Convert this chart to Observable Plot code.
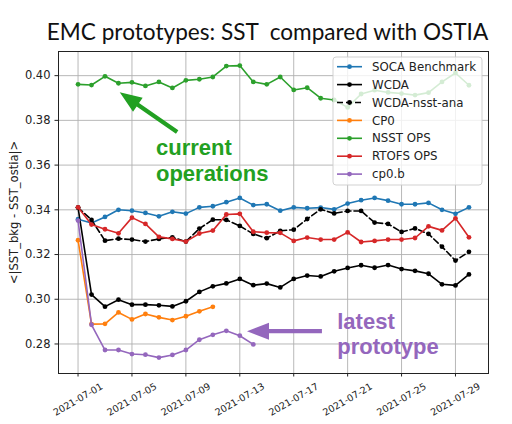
<!DOCTYPE html>
<html><head><meta charset="utf-8">
<script src="https://cdn.jsdelivr.net/npm/d3@7"></script>
<script src="https://cdn.jsdelivr.net/npm/@observablehq/plot@0.6"></script>
<style>html,body{margin:0;padding:0;background:#fff;}</style>
</head><body><div id="chart"></div>
<script>
const dates = ["2021-07-01","2021-07-02","2021-07-03","2021-07-04","2021-07-05","2021-07-06","2021-07-07","2021-07-08","2021-07-09","2021-07-10",
"2021-07-11","2021-07-12","2021-07-13","2021-07-14","2021-07-15","2021-07-16","2021-07-17","2021-07-18","2021-07-19","2021-07-20",
"2021-07-21","2021-07-22","2021-07-23","2021-07-24","2021-07-25","2021-07-26","2021-07-27","2021-07-28","2021-07-29","2021-07-30"];

const seriesNames = ["SOCA Benchmark","WCDA","WCDA-nsst-ana","CP0","NSST OPS","RTOFS OPS","cp0.b"];
const seriesColors = ["#1f77b4","#000000","#000000","#ff7f0e","#2ca02c","#d62728","#9467bd"];
const seriesDashed = [false,false,true,false,false,false,false];

const socaBenchmark = [0.3358,0.3341,0.3368,0.3400,0.3396,0.3386,0.3371,0.3391,0.3383,0.3411,0.3416,0.3434,0.3453,0.3421,0.3425,0.3396,0.3411,0.3407,0.3410,0.3402,0.3428,0.3443,0.3453,0.3441,0.3425,0.3425,0.3431,0.3400,0.3382,0.3411];
const wcda = [0.3410,0.3021,0.2967,0.2998,0.2976,0.2976,0.2973,0.2968,0.2991,0.3033,0.3058,0.3071,0.3091,0.3063,0.3070,0.3053,0.3091,0.3106,0.3102,0.3125,0.3140,0.3152,0.3141,0.3153,0.3135,0.3127,0.3114,0.3067,0.3062,0.3111];
const wcdaNsstAna = [0.3410,0.3355,0.3262,0.3271,0.3267,0.3258,0.3270,0.3277,0.3258,0.3316,0.3356,0.3355,0.3328,0.3292,0.3273,0.3306,0.3311,0.3359,0.3402,0.3384,0.3395,0.3395,0.3343,0.3337,0.3301,0.3317,0.3292,0.3235,0.3173,0.3212];
const cp0 = [0.3264,0.2889,0.2890,0.2941,0.2910,0.2934,0.2919,0.2907,0.2924,0.2946,0.2966];
const nsstOps = [0.3961,0.3958,0.3997,0.3966,0.3970,0.3954,0.3972,0.3945,0.3979,0.3984,0.3994,0.4043,0.4045,0.3972,0.3961,0.3994,0.3936,0.3946,0.3899,0.3891,0.3858,0.3918,0.3935,0.3925,0.3920,0.3913,0.3924,0.3972,0.4012,0.3957];
const rtofsOps = [0.3411,0.3334,0.3313,0.3295,0.3365,0.3337,0.3279,0.3270,0.3258,0.3294,0.3307,0.3379,0.3382,0.3302,0.3298,0.3297,0.3261,0.3276,0.3267,0.3267,0.3299,0.3256,0.3261,0.3267,0.3267,0.3274,0.3326,0.3308,0.3362,0.3277];
const cp0b = [0.3352,0.2886,0.2773,0.2773,0.2755,0.2752,0.2739,0.2751,0.2773,0.2819,0.2841,0.2859,0.2837,0.2798];

const seriesValues = [socaBenchmark, wcda, wcdaNsstAna, cp0, nsstOps, rtofsOps, cp0b];

const xTicks = ["2021-07-01","2021-07-05","2021-07-09","2021-07-13","2021-07-17","2021-07-21","2021-07-25","2021-07-29"];
const yTicks = [0.28,0.30,0.32,0.34,0.36,0.38,0.40];

const titleText = "EMC prototypes: SST  compared with OSTIA";
const yLabel = "<|SST_bkg - SST_ostia|>";

const annotations = [
  {text: "current\noperations", x: "2021-07-06T18:43Z", y: 0.3530, color: "#22a022",
   tipX: "2021-07-04T03:07Z", tipY: 0.3923, tailX: "2021-07-08T09:22Z", tailY: 0.3746},
  {text: "latest\nprototype", x: "2021-07-20T05:31Z", y: 0.2755, color: "#9467bd",
   tipX: "2021-07-13T13:41Z", tipY: 0.2855, tailX: "2021-07-19T03:07Z", tailY: 0.2855}
];

const parse = s => new Date(s.length === 10 ? s + "T00:00Z" : s);
const xTickDates = xTicks.map(parse);
const fmt = d3.utcFormat("%Y-%m-%d");

const seriesMarks = [];
seriesNames.forEach((name, i) => {
  const rows = seriesValues[i].map((v, j) => ({date: parse(dates[j]), value: v, series: name}));
  seriesMarks.push(Plot.line(rows, {x: "date", y: "value", stroke: seriesColors[i], strokeWidth: 1.6,
    strokeDasharray: seriesDashed[i] ? "6,3" : null}));
  seriesMarks.push(Plot.dot(rows, {x: "date", y: "value", fill: seriesColors[i], r: 2.4, stroke: "none"}));
});

const plot = Plot.plot({
  width: 512, height: 424,
  marginLeft: 58, marginRight: 24, marginTop: 51, marginBottom: 51,
  x: {type: "utc", domain: [parse("2021-06-29T13:12Z"), parse("2021-07-31T10:48Z")]},
  y: {domain: [0.2668, 0.4108]},
  style: {fontFamily: "DejaVu Sans", background: "white", overflow: "visible"},
  marks: [
    Plot.gridX(xTickDates, {stroke: "#b0b0b0", strokeOpacity: 1, strokeWidth: 0.9}),
    Plot.gridY(yTicks, {stroke: "#b0b0b0", strokeOpacity: 1, strokeWidth: 0.9}),
    ...seriesMarks,
    Plot.frame({stroke: "#222", strokeWidth: 1}),
    Plot.axisX(xTickDates, {tickSize: 3.5, tickFormat: () => "", stroke: "#222"}),
    Plot.text(xTickDates, {x: d => d, frameAnchor: "bottom", dy: 26, rotate: -30, text: d => fmt(d),
      textAnchor: "middle", lineAnchor: "middle", fontSize: 9.5, fill: "#222"}),
    Plot.axisY(yTicks, {tickSize: 3.5, tickPadding: 4.5, tickFormat: d3.format(".2f"), fontSize: 11.5, label: null, stroke: "#222", color: "#222"}),
    Plot.text([yLabel], {frameAnchor: "left", dx: -44, rotate: -90, fontSize: 11.6, fill: "#222", textAnchor: "middle", lineAnchor: "middle"}),
    Plot.text([titleText], {frameAnchor: "top", dx: -6, dy: -12, lineAnchor: "bottom", fontSize: 22.6,
      fontFamily: "Lato", fill: "#111", textAnchor: "middle"}),
    Plot.text(annotations, {x: d => parse(d.x), y: "y", text: "text", fill: d => d.color, textAnchor: "start",
      lineAnchor: "bottom", fontSize: 22, fontWeight: "bold", fontFamily: "Liberation Sans", lineHeight: 1.16})
  ]
});

document.getElementById("chart").appendChild(plot);

const svg = d3.select(plot);
const sx = plot.scale("x"), sy = plot.scale("y");

// arrows
const arrowG = svg.append("g");
annotations.forEach(a => {
  const T = [sx.apply(parse(a.tipX)), sy.apply(a.tipY)];
  const S = [sx.apply(parse(a.tailX)), sy.apply(a.tailY)];
  const dx = T[0] - S[0], dy = T[1] - S[1], L = Math.hypot(dx, dy);
  const u = [dx / L, dy / L], n = [-u[1], u[0]];
  const w = 4.2, hw = 17, hl = 22;
  const B = [T[0] - u[0] * hl, T[1] - u[1] * hl];
  const p = (P, k) => [P[0] + n[0] * k, P[1] + n[1] * k];
  const pts = [p(S, w / 2), p(B, w / 2), p(B, hw / 2), T, p(B, -hw / 2), p(B, -w / 2), p(S, -w / 2)];
  arrowG.append("polygon").attr("points", pts.map(q => q.join(",")).join(" ")).attr("fill", a.color);
});

// legend
const lg = svg.append("g").attr("font-family", "DejaVu Sans").attr("font-size", 11.8).attr("text-anchor", "start");
const lx = 333, ly = 57, lw = 149, rowH = 17.9;
lg.append("rect").attr("x", lx).attr("y", ly).attr("width", lw).attr("height", 128).attr("rx", 3)
  .attr("fill", "white").attr("fill-opacity", 0.8).attr("stroke", "#cccccc").attr("stroke-opacity", 0.9);
seriesNames.forEach((name, i) => {
  const cy = ly + 9.7 + i * rowH;
  lg.append("line").attr("x1", lx + 4).attr("x2", lx + 29).attr("y1", cy).attr("y2", cy)
    .attr("stroke", seriesColors[i]).attr("stroke-width", 1.6).attr("stroke-dasharray", seriesDashed[i] ? "6,3" : null);
  lg.append("circle").attr("cx", lx + 16.5).attr("cy", cy).attr("r", 2.4).attr("fill", seriesColors[i]);
  lg.append("text").attr("x", lx + 39).attr("y", cy).attr("dy", "0.35em").attr("text-anchor", "start")
    .attr("fill", "#222").text(name);
});
</script>
</body></html>
